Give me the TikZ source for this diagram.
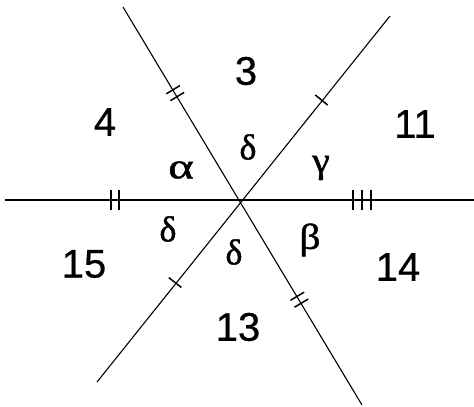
\documentclass[tikz,border=0pt]{standalone}
\usepackage{fontspec}
\usepackage{graphicx}
\setmainfont{Liberation Sans}[FakeBold=0.6]
\newfontfamily\grk{Liberation Serif}[FakeBold=1.2]
\usetikzlibrary{calc}
\begin{document}
\begin{tikzpicture}[x=1pt,y=-1pt,
  lineA/.style={line width=1.1pt},
  lineH/.style={line width=1.6pt},
  hatch/.style={line width=1.5pt},
  num/.style={font=\fontsize{40}{40}\selectfont, inner sep=0pt},
  gr/.style={font=\grk\fontsize{36}{36}\selectfont, inner sep=0pt}]
\useasboundingbox (0,0) rectangle (474,407);
\coordinate (O) at (240,200);
\coordinate (HL) at (5,200);
\coordinate (HR) at (474,200);
\coordinate (A1) at (123,7);
\coordinate (B1) at (362,405);
\coordinate (A2) at (390,16);
\coordinate (B2) at (97,382);
\draw[lineH] (HL) -- (HR);
\draw[lineA] (A1) -- (B1);
\draw[lineA] (A2) -- (B2);
% double hatches on line 1
\foreach \d in {121,129} {
  \draw[hatch] ($(O)!\d pt!(A1)!8pt!90:(A1)$) -- ($(O)!\d pt!(A1)!8pt!-90:(A1)$);
}
\foreach \d in {112,120} {
  \draw[hatch] ($(O)!\d pt!(B1)!8pt!90:(B1)$) -- ($(O)!\d pt!(B1)!8pt!-90:(B1)$);
}
% single hatches on line 2
\draw[hatch] ($(O)!129pt!(A2)!8pt!90:(A2)$) -- ($(O)!129pt!(A2)!8pt!-90:(A2)$);
\draw[hatch] ($(O)!105pt!(B2)!8pt!90:(B2)$) -- ($(O)!105pt!(B2)!8pt!-90:(B2)$);
% horizontal hatches
\foreach \d in {121,129} {
  \draw[hatch] ($(O)!\d pt!(HL)!10pt!90:(HL)$) -- ($(O)!\d pt!(HL)!10pt!-90:(HL)$);
}
\foreach \d in {113,122,131} {
  \draw[hatch] ($(O)!\d pt!(HR)!10pt!90:(HR)$) -- ($(O)!\d pt!(HR)!10pt!-90:(HR)$);
}
% region numbers
\node[num] (n3) at (246,71) {3};
\node[num] (n4) at (105,122) {4};
\node[num] (n11) at (415,124) {11};
\node[num] (n15) at (84,264) {15};
\node[num] (n14) at (398,267) {14};
\node[num] (n13) at (238,327) {13};
% angles
\node[gr] (alpha) at (181,170) {\scalebox{1.35}[1]{α}};
\node[gr] (d1) at (248,147) {δ};
\node[gr] (gamma) at (321,168) {\scalebox{1.1}[1]{γ}};
\node[gr] (d2) at (168,229) {δ};
\node[gr] (d3) at (234,252) {δ};
\node[gr] (beta) at (310,240) {\scalebox{1.15}[1]{β}};
\end{tikzpicture}
\end{document}
